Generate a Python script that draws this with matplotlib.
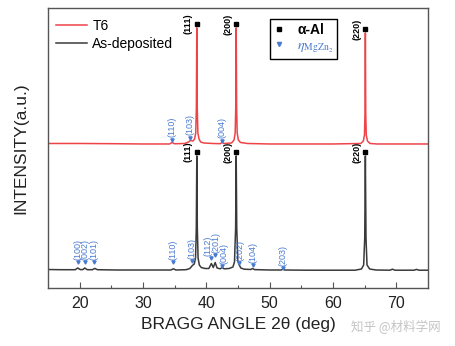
import matplotlib
matplotlib.use('Agg')
import matplotlib.pyplot as plt
from matplotlib.lines import Line2D

plt.rcParams['font.family'] = ['Liberation Sans', 'DejaVu Sans']
plt.rcParams['mathtext.fontset'] = 'stix'

# As-deposited pattern (2theta, intensity a.u.)
asdep_2theta = [15.0, 17.0, 19.3, 19.7, 20.1, 20.5, 20.8, 21.2, 22.0, 22.4, 22.8, 26.0, 30.0,
                34.4, 34.8, 35.2, 36.8, 37.4, 37.8, 38.1, 38.3, 38.42, 38.5, 38.58, 38.7, 38.9,
                39.2, 39.8, 40.4, 40.8, 41.1, 41.4, 41.7, 42.2, 42.5, 42.8, 43.6, 44.2, 44.45,
                44.63, 44.72, 44.81, 44.98, 45.2, 45.45, 46.0, 47.0, 47.3, 47.6, 50.0, 51.8,
                52.1, 52.4, 56.0, 60.0, 63.5, 64.5, 64.85, 65.02, 65.12, 65.22, 65.38, 65.8,
                66.8, 69.0, 69.4, 69.8, 72.8, 73.2, 73.6, 75.0]
asdep_int = [18.5, 18.3, 18.3, 20.0, 18.4, 18.4, 20.0, 18.3, 18.3, 19.6, 18.3, 18.0, 18.0,
             18.0, 19.2, 18.0, 18.3, 19.5, 22.5, 24.0, 30.0, 60.0, 132.0, 60.0, 30.0, 23.0,
             20.5, 19.5, 19.5, 24.5, 20.5, 25.5, 20.0, 19.2, 20.5, 19.2, 19.5, 21.0, 26.0,
             60.0, 132.0, 60.0, 27.0, 23.0, 20.0, 18.8, 18.5, 19.5, 18.4, 18.0, 18.0,
             18.8, 18.0, 17.8, 17.8, 17.8, 19.0, 23.0, 50.0, 132.0, 50.0, 23.0, 19.0,
             18.0, 17.8, 18.8, 17.8, 17.8, 18.6, 17.8, 17.8]

# T6 pattern
t6_2theta = [15.0, 20.0, 25.0, 30.0, 34.2, 34.6, 35.0, 36.6, 37.2, 37.5, 37.9, 38.15, 38.33,
             38.43, 38.5, 38.57, 38.67, 38.85, 39.1, 39.6, 41.0, 42.2, 42.5, 42.8, 44.0,
             44.38, 44.56, 44.65, 44.72, 44.79, 44.88, 45.06, 45.4, 46.5, 50.0, 55.0, 60.0,
             64.4, 64.8, 64.98, 65.06, 65.12, 65.18, 65.26, 65.45, 65.85, 67.0, 70.0, 75.0]
t6_int = [144.5, 144.5, 144.3, 144.0, 144.0, 145.5, 144.2, 144.5, 146.0, 147.5, 147.0, 149.0, 155.0,
          180.0, 260.0, 180.0, 155.0, 149.0, 146.0, 145.0, 144.5, 144.3, 145.5, 144.5, 145.0,
          148.0, 155.0, 180.0, 260.0, 180.0, 155.0, 148.0, 145.5, 144.5, 144.0, 144.0, 144.0,
          144.5, 147.0, 153.0, 175.0, 255.0, 175.0, 153.0, 147.0, 144.5, 144.0, 144.0, 144.0]

# alpha-Al reflections
al_hkl = ['(111)', '(200)', '(220)']
al_pos = [38.5, 44.72, 65.12]
al_t6_y = [264, 264, 259]
al_asdep_y = [136, 136, 136]

# eta-MgZn2 reflections, as-deposited
eta_hkl = ['(100)', '(002)', '(101)', '(110)', '(103)', '(112)', '(201)', '(004)',
           '(202)', '(104)', '(203)']
eta_pos = [19.7, 20.8, 22.3, 34.8, 37.8, 40.8, 41.4, 42.5, 45.2, 47.3, 52.1]
eta_lab = [19.7, 20.9, 22.3, 34.8, 37.8, 40.3, 41.6, 42.8, 45.3, 47.4, 52.1]
eta_y = [26, 26, 26, 26, 27, 30, 33, 22, 25, 23, 20]

# eta-MgZn2 reflections, T6
eta_t6_hkl = ['(110)', '(103)', '(004)']
eta_t6_pos = [34.6, 37.5, 42.5]
eta_t6_y = [148, 150, 147]

red = '#ee4448'
dark = '#3a3a3a'
blue = '#4a7bd0'

fig = plt.figure(figsize=(4.55, 3.46), dpi=100)
ax = fig.add_axes([0.1055, 0.1676, 0.835, 0.8094])

l1, = ax.plot(t6_2theta, t6_int, color=red, lw=1.1)
l2, = ax.plot(asdep_2theta, asdep_int, color=dark, lw=1.1)

for hkl, x, yt, ya in zip(al_hkl, al_pos, al_t6_y, al_asdep_y):
    ax.plot([x, x], [yt, ya], 's', color='black', ms=2.3, ls='none')
    ax.text(x - 1.35, yt, hkl, rotation=90, ha='center', va='center',
            fontsize=6.5, fontweight='bold')
    ax.text(x - 1.35, ya, hkl, rotation=90, ha='center', va='center',
            fontsize=6.5, fontweight='bold')

for hkl, x, xl, y in zip(eta_hkl + eta_t6_hkl, eta_pos + eta_t6_pos,
                         eta_lab + eta_t6_pos, eta_y + eta_t6_y):
    ax.plot(x, y, 'v', color=blue, ms=2.3)
    ax.text(xl, y + 2.5, hkl, rotation=90, ha='center', va='bottom',
            fontsize=6.5, color=blue)

ax.set_xlim(15, 75)
ax.set_ylim(0, 280)
ax.set_yticks([])
ax.set_xticks([20, 30, 40, 50, 60, 70])
ax.set_xticks([25, 35, 45, 55, 65], minor=True)
ax.tick_params(axis='x', which='major', direction='in', length=4, width=0.8,
               labelsize=11.5, labelcolor='#222222', color='#555555', pad=6)
ax.tick_params(axis='x', which='minor', direction='in', length=2, width=0.8, color='#555555')
for s in ax.spines.values():
    s.set_color('#555555')
    s.set_linewidth(1.0)

ax.set_xlabel('BRAGG ANGLE 2θ (deg)', fontsize=12.5, color='#222222', labelpad=4)
ax.set_ylabel('INTENSITY(a.u.)', fontsize=12.5, color='#222222', labelpad=14)

leg1 = ax.legend([l1, l2], ['T6', 'As-deposited'], loc='upper left',
                 bbox_to_anchor=(0.0, 0.99), frameon=False, fontsize=10,
                 handlelength=2.2, labelspacing=0.3, borderaxespad=0.2, handletextpad=0.4)
ax.add_artist(leg1)

h_al = Line2D([], [], marker='s', color='black', ls='none', ms=3)
h_eta = Line2D([], [], marker='v', color=blue, ls='none', ms=3)
leg2 = ax.legend([h_al, h_eta], ['α-Al', r'$\eta_{\mathrm{MgZn_2}}$'], loc='upper left',
                 bbox_to_anchor=(0.585, 0.96), fontsize=10, fancybox=False,
                 edgecolor='black', framealpha=1, handlelength=0.8, handletextpad=0.9,
                 labelspacing=0.12, borderpad=0.25, borderaxespad=0)
leg2.get_frame().set_linewidth(1.0)
t_al, t_eta = leg2.get_texts()
t_al.set_fontweight('bold')
t_eta.set_color(blue)

fig.text(0.87, 0.055, '知乎 @材料学网', fontsize=9, color='#c4c4c4', ha='center',
         va='center', family=['Noto Sans CJK SC', 'DejaVu Sans'])

fig.savefig('out.png', dpi=100)
